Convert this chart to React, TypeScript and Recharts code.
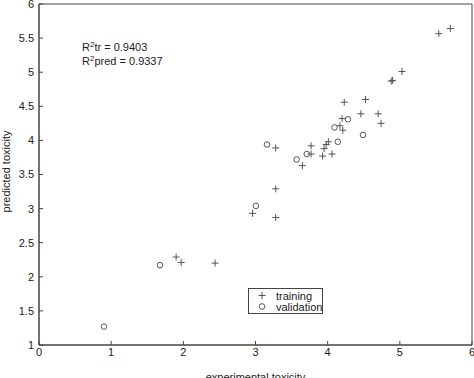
import React from 'react';
import { ScatterChart, Scatter, XAxis, YAxis, ReferenceArea, Customized } from 'recharts';

const trainingX = [1.90, 1.97, 2.44, 2.96, 3.28, 3.28, 3.28, 3.65, 3.77, 3.77, 3.93, 3.95, 3.98, 4.01, 4.06, 4.17, 4.20, 4.21, 4.23, 4.46, 4.525, 4.70, 4.74, 4.88, 4.90, 5.03, 5.54, 5.70];
const trainingY = [2.29, 2.21, 2.20, 2.93, 2.87, 3.29, 3.89, 3.63, 3.80, 3.92, 3.77, 3.88, 3.94, 3.98, 3.80, 4.215, 4.32, 4.15, 4.56, 4.39, 4.60, 4.39, 4.25, 4.87, 4.88, 5.01, 5.565, 5.64];

const validationX = [0.90, 1.676, 3.005, 3.16, 3.57, 3.71, 4.095, 4.14, 4.28, 4.49];
const validationY = [1.27, 2.17, 3.04, 3.94, 3.72, 3.80, 4.19, 3.98, 4.31, 4.08];

const xTicks = [0, 1, 2, 3, 4, 5, 6];
const yTicks = [1, 1.5, 2, 2.5, 3, 3.5, 4, 4.5, 5, 5.5, 6];

const r2Lines = [
  { pre: 'R', sup: '2', post: 'tr = 0.9403' },
  { pre: 'R', sup: '2', post: 'pred = 0.9337' },
];
const legendItems = [
  { label: 'training', kind: 'plus' },
  { label: 'validation', kind: 'circle' },
];

const trainingData = trainingX.map((x, i) => ({ x, y: trainingY[i] }));
const validationData = validationX.map((x, i) => ({ x, y: validationY[i] }));

const MARK = '#555';
const AXIS = '#444';
const TEXT = '#222';
const FONT = 'Liberation Sans, Arial, sans-serif';

const Plus = (props: any) => {
  const { cx, cy } = props;
  if (cx == null || cy == null) return null;
  return (
    <g stroke={MARK} strokeWidth={1}>
      <line x1={cx - 3.5} y1={cy} x2={cx + 3.5} y2={cy} />
      <line x1={cx} y1={cy - 3.5} x2={cx} y2={cy + 3.5} />
    </g>
  );
};

const Circle = (props: any) => {
  const { cx, cy } = props;
  if (cx == null || cy == null) return null;
  return <circle cx={cx} cy={cy} r={2.8} fill="none" stroke={MARK} strokeWidth={1} />;
};

const Overlay = () => (
  <g fontFamily={FONT} fontSize={11} fill={TEXT}>
    {r2Lines.map((l, i) => (
      <text key={i} x={82} y={51 + i * 14}>
        {l.pre}
        <tspan fontSize={8} dy={-4}>{l.sup}</tspan>
        <tspan dy={4}>{l.post}</tspan>
      </text>
    ))}
    <rect x={248.5} y={288.5} width={74} height={25} fill="#fff" stroke={AXIS} strokeWidth={1} />
    {legendItems.map((it, i) => {
      const cy = 295.5 + i * 11;
      return (
        <g key={it.label}>
          {it.kind === 'plus' ? <Plus cx={262} cy={cy} /> : <Circle cx={262} cy={cy} />}
          <text x={276} y={cy + 4}>{it.label}</text>
        </g>
      );
    })}
  </g>
);

export default function App() {
  return (
    <div style={{ position: 'absolute', left: 0, top: 0, width: 474, height: 378, background: '#fff' }}>
      <ScatterChart width={474} height={378} margin={{ top: 4, right: 2, bottom: 0, left: 0 }}>
        <ReferenceArea x1={0} x2={6} y1={1} y2={6} fill="none" stroke={AXIS} strokeWidth={1} ifOverflow="visible" />
        <XAxis
          type="number"
          dataKey="x"
          domain={[0, 6]}
          ticks={xTicks}
          interval={0}
          height={33}
          axisLine={{ stroke: AXIS }}
          tickLine={{ stroke: AXIS }}
          tickSize={-4}
          tickMargin={7}
          tick={{ fill: TEXT, fontSize: 11, fontFamily: FONT }}
          label={{ value: 'experimental toxicity', position: 'insideBottom', offset: -3, fill: TEXT, fontSize: 11, fontFamily: FONT }}
        />
        <XAxis
          xAxisId="top"
          orientation="top"
          type="number"
          dataKey="x"
          domain={[0, 6]}
          ticks={xTicks}
          interval={0}
          height={0}
          axisLine={{ stroke: AXIS }}
          tickLine={{ stroke: AXIS }}
          tickSize={-4}
          tick={false}
        />
        <YAxis
          type="number"
          dataKey="y"
          domain={[1, 6]}
          ticks={yTicks}
          interval={0}
          width={39}
          axisLine={{ stroke: AXIS }}
          tickLine={{ stroke: AXIS }}
          tickSize={-4}
          tickMargin={9}
          tick={{ fill: TEXT, fontSize: 11, fontFamily: FONT }}
          label={{ value: 'predicted toxicity', angle: -90, position: 'insideLeft', offset: 6, dy: -3, fill: TEXT, fontSize: 11, fontFamily: FONT, style: { textAnchor: 'middle' } }}
        />
        <YAxis
          yAxisId="right"
          orientation="right"
          type="number"
          dataKey="y"
          domain={[1, 6]}
          ticks={yTicks}
          interval={0}
          width={0}
          axisLine={{ stroke: AXIS }}
          tickLine={{ stroke: AXIS }}
          tickSize={-4}
          tick={false}
        />
        <Scatter data={trainingData} shape={<Plus />} isAnimationActive={false} />
        <Scatter data={validationData} shape={<Circle />} isAnimationActive={false} />
        <Customized component={Overlay} />
      </ScatterChart>
    </div>
  );
}
